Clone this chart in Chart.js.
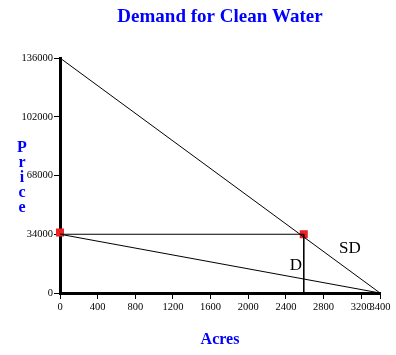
<!DOCTYPE html>
<html><head><meta charset="utf-8">
<script src="https://cdn.jsdelivr.net/npm/chart.js@4"></script>
<style>html,body{margin:0;padding:0;background:#fff}#c{display:block}</style>
</head><body>
<canvas id="c" width="396" height="355"></canvas>
<script>
const xTicks = [0,400,800,1200,1600,2000,2400,2800,3200,3400];
const yTicks = [0,34000,68000,102000,136000];
const sdX = [0,3400], sdY = [136000,0];
const dX = [0,3400], dY = [34000,0];
const hX = [0,2590], hY = [34000,34000];
const vX = [2590,2590], vY = [34000,0];
const ptX = [0,2590], ptY = [35000,34000];
const labels = [{t:'SD',x:3080,y:26000},{t:'D',x:2507,y:16000}];

const pts = (xs,ys)=>xs.map((x,i)=>({x,y:ys[i]}));
const lineDs = (xs,ys)=>({type:'line',data:pts(xs,ys),borderColor:'#000',borderWidth:1,pointRadius:0,fill:false,tension:0,clip:false});

const textPlugin = {
  id:'txt',
  afterDraw(ch){
    const c=ch.ctx, xs=ch.scales.x, ys=ch.scales.y;
    c.save();
    c.fillStyle='#0000ff';
    c.font='bold 19px "Liberation Serif"';
    c.textAlign='center'; c.textBaseline='middle';
    c.fillText('Demand for Clean Water',220,17);
    c.font='bold 16px "Liberation Serif"';
    c.fillText('Acres',220,340);
    const p='Price';
    for(let i=0;i<p.length;i++) c.fillText(p[i],22,148+i*15);
    c.fillStyle='#000';
    c.font='17px "Liberation Serif"';
    labels.forEach(l=>c.fillText(l.t,xs.getPixelForValue(l.x),ys.getPixelForValue(l.y)));
    c.restore();
  }
};

new Chart(document.getElementById('c'),{
  type:'scatter',
  data:{datasets:[
    lineDs(sdX,sdY),lineDs(dX,dY),lineDs(hX,hY),lineDs(vX,vY),
    {type:'scatter',data:pts(ptX,ptY),pointStyle:'rect',pointRadius:5.7,backgroundColor:'#ee2222',borderColor:'#ee2222',borderWidth:0,clip:false}
  ]},
  options:{
    responsive:false,animation:false,
    layout:{padding:{top:58,right:16,left:0,bottom:0}},
    plugins:{legend:{display:false},tooltip:{enabled:false}},
    scales:{
      x:{type:'linear',min:0,max:3400,
        afterBuildTicks(s){s.ticks=xTicks.map(v=>({value:v}));},
        afterFit(s){s.height=62;},
        border:{display:true,color:'#000',width:3},
        grid:{drawOnChartArea:false,drawTicks:true,tickLength:6,tickColor:'#000',lineWidth:1},
        ticks:{autoSkip:false,maxRotation:0,padding:2,color:'#000',font:{family:'Liberation Serif',size:10.5},callback:v=>String(v)}
      },
      y:{type:'linear',min:0,max:136000,
        afterBuildTicks(s){s.ticks=yTicks.map(v=>({value:v}));},
        afterFit(s){s.width=60;},
        border:{display:true,color:'#000',width:3},
        grid:{drawOnChartArea:false,drawTicks:true,tickLength:6,tickColor:'#000',lineWidth:1},
        ticks:{autoSkip:false,padding:1,color:'#000',font:{family:'Liberation Serif',size:10.5},callback:v=>String(v)}
      }
    }
  },
  plugins:[textPlugin]
});
</script>
</body></html>
